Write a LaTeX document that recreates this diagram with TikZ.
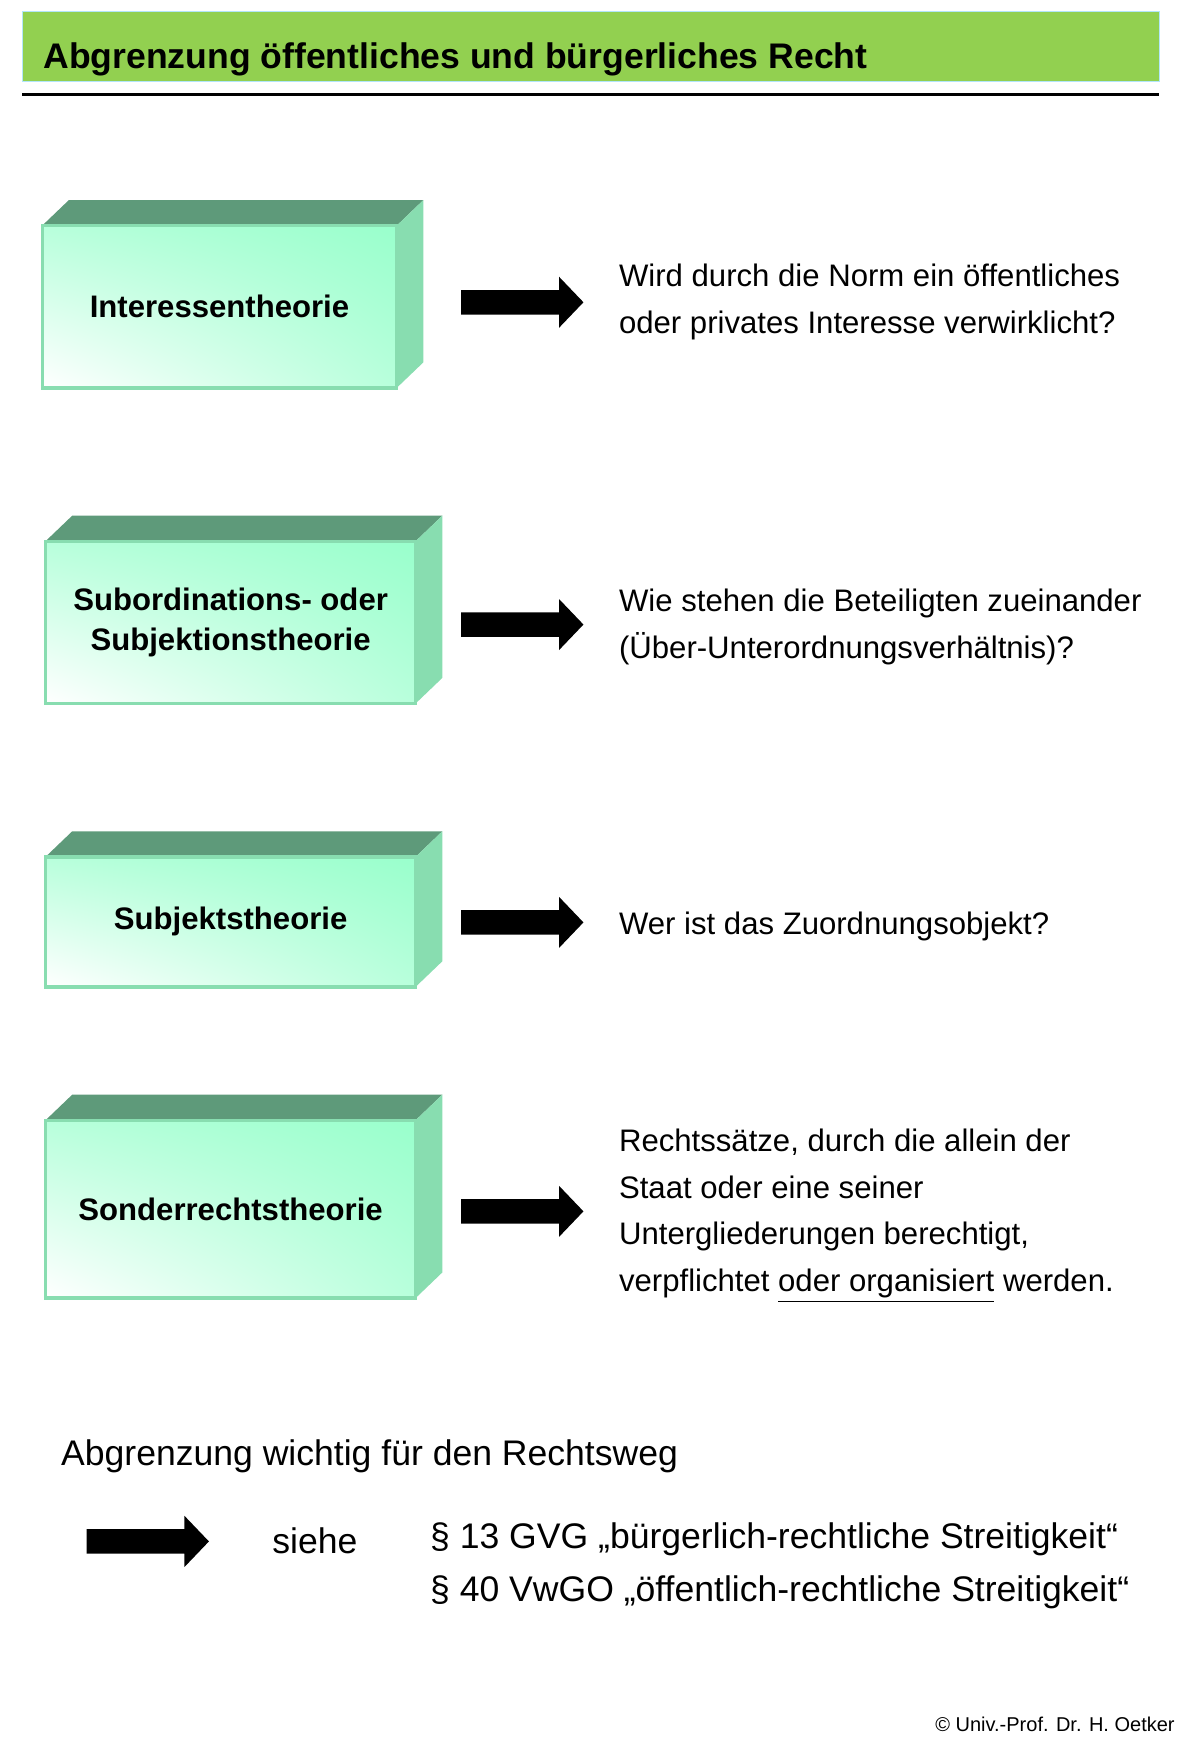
\documentclass[tikz,border=0pt]{standalone}
\usepackage{fontspec}
\setmainfont{Liberation Sans}
\usetikzlibrary{positioning,shadings}
\definecolor{hdrgreen}{HTML}{92D050}
\definecolor{topgreen}{HTML}{5E9A7A}
\definecolor{sidegreen}{HTML}{88DDB0}
\definecolor{frontgreen}{HTML}{99FFCC}
\newcommand{\theorybox}[5]{% x1,y1,x2,y2,label
  \fill[topgreen] (#1,#2)--(#1+24,#2-23)--(#3+24,#2-23)--(#3,#2)--cycle;
  \fill[sidegreen] (#3,#2)--(#3+24,#2-23)--(#3+24,#4-23)--(#3,#4)--cycle;
  \shade[lower left=white,upper right=frontgreen,lower right=frontgreen!70,upper left=frontgreen!70] (#1,#2) rectangle (#3,#4);
  \draw[sidegreen,line width=1.5pt] (#1,#2) rectangle (#3,#4);
  \node[font=\bfseries\fontsize{14}{18}\selectfont,align=center] at ({(#1+#3)/2},{(#2+#4)/2}) {#5};
}
\newcommand{\blockarrow}[2]{% x,y
  \fill[black] (#1,#2-11)--(#1+88,#2-11)--(#1+88,#2-23)--(#1+110,#2)--(#1+88,#2+23)--(#1+88,#2+11)--(#1,#2+11)--cycle;
}
\begin{document}
\begin{tikzpicture}[x=0.5pt,y=-0.5pt,
  answer/.style={anchor=west,align=left,font=\fontsize{14}{21}\selectfont}]
\useasboundingbox (0,0) rectangle (1080,1572);
% header
\fill[hdrgreen,draw=cyan!30] (20,10) rectangle (1043,73);
\draw[line width=1.5pt] (20,85)--(1043,85);
\node[anchor=west,font=\bfseries\fontsize{16}{20}\selectfont] (title) at (32,53) {Abgrenzung öffentliches und bürgerliches Recht};
% theories
\theorybox{38}{203}{357}{349}{Interessentheorie}
\theorybox{41}{487}{374}{633}{Subordinations- oder\\Subjektionstheorie}
\theorybox{41}{771}{374}{888}{Subjektstheorie}
\theorybox{41}{1008}{374}{1168}{Sonderrechtstheorie}
\blockarrow{415}{272}
\blockarrow{415}{562}
\blockarrow{415}{830}
\blockarrow{415}{1090}
\node[answer] (q1) at (550,272) {Wird durch die Norm ein öffentliches\\oder privates Interesse verwirklicht?};
\node[answer] (q2) at (550,564) {Wie stehen die Beteiligten zueinander\\(Über-Unterordnungsverhältnis)?};
\node[answer] (q3) at (550,834) {Wer ist das Zuordnungsobjekt?};
\node[answer] (q4) at (550,1094) {Rechtssätze, durch die allein der\\Staat oder eine seiner\\Untergliederungen berechtigt,\\verpflichtet \underline{oder organisiert} werden.};
% Rechtsweg
\node[anchor=west,font=\fontsize{16}{21}\selectfont] (weg) at (48,1310) {Abgrenzung wichtig für den Rechtsweg};
\blockarrow{78}{1387}
\node[anchor=west,font=\fontsize{16}{21}\selectfont] (siehe) at (238,1386) {siehe};
\node[anchor=west,align=left,font=\fontsize{16}{24}\selectfont] (par) at (380,1409) {§ 13 GVG „bürgerlich-rechtliche Streitigkeit“\\§ 40 VwGO „öffentlich-rechtliche Streitigkeit“};
\node[anchor=east,font=\fontsize{9}{11}\selectfont] (copy) at (1064,1552) {© Univ.-Prof. Dr. H. Oetker};
\end{tikzpicture}
\end{document}
